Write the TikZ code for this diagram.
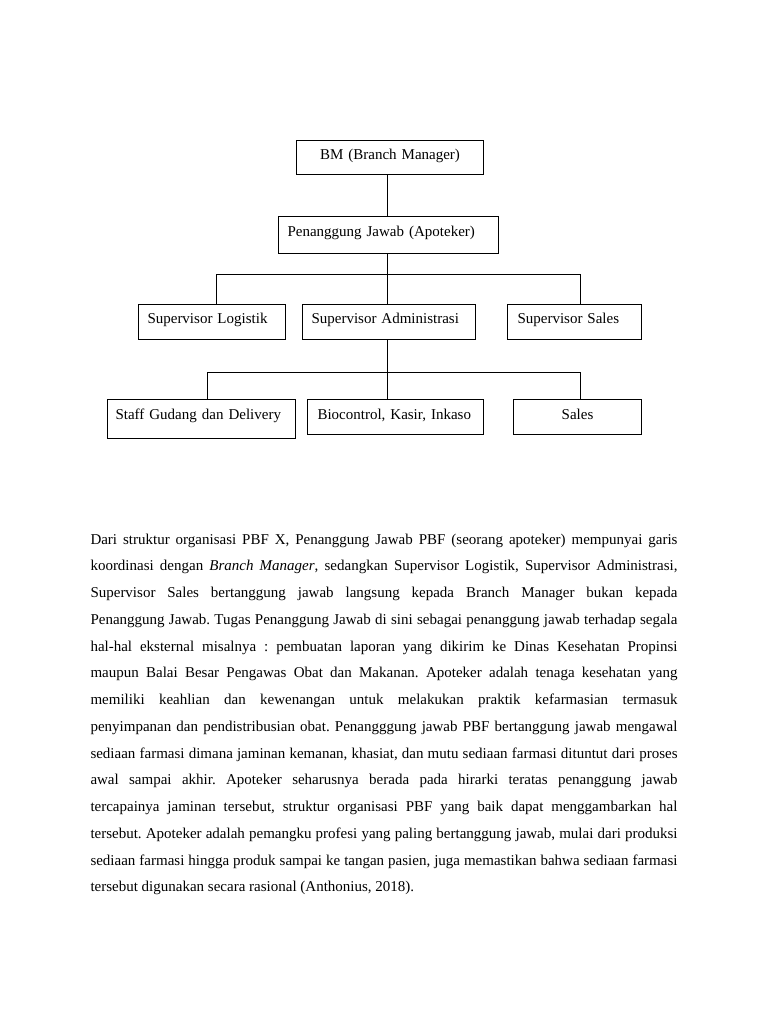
\documentclass[tikz,border=0pt]{standalone}
\usepackage{fontspec}
\setmainfont{Liberation Serif}
\usetikzlibrary{calc}
\tolerance=10000
\hyphenpenalty=10000
\frenchspacing

\begin{document}
\begin{tikzpicture}[x=1pt, y=-1pt, line width=1pt,
    orgbox/.style={draw, rectangle, anchor=north west, inner ysep=0pt, inner xsep=9pt,
      text height=19.5pt, align=left, font=\fontsize{15}{18}\selectfont},
    textbody/.style={anchor=base west, inner sep=0pt, text width=587pt, align=justify,
      font=\fontsize{15}{26.75}\selectfont}]
  \useasboundingbox (0, 0) rectangle (768, 1024);
  % boxes
  \node [orgbox, inner xsep=0pt, align=center, text width=187pt, text depth=14.5pt] (bm) at (296, 140) {BM (Branch Manager)};
  \node [orgbox, text width=202pt, text depth=17pt] (pj) at (278, 216.5) {Penanggung Jawab (Apoteker)};
  \node [orgbox, text width=129pt, text depth=16pt] (slog) at (138, 303.5) {Supervisor Logistik};
  \node [orgbox, text width=155pt, text depth=16pt] (sadm) at (302, 303.5) {Supervisor Administrasi};
  \node [orgbox, inner xsep=10pt, text width=114pt, text depth=16pt] (ssal) at (507, 303.5) {Supervisor Sales};
  \node [orgbox, inner xsep=8pt, text width=172pt, text depth=19.5pt] (staff) at (107, 399) {Staff Gudang dan Delivery};
  \node [orgbox, inner xsep=10pt, text width=156pt, text depth=15.5pt] (bio) at (307, 399) {Biocontrol, Kasir, Inkaso};
  \node [orgbox, inner xsep=0pt, align=center, text width=128pt, text depth=15.5pt] (sales) at (513, 399) {Sales};
  % lines
  \coordinate (bus1) at (387, 274.5);
  \coordinate (bus1l) at (216, 274.5);
  \coordinate (bus1r) at (580, 274.5);
  \coordinate (bus2) at (387, 372);
  \coordinate (bus2l) at (207, 372);
  \coordinate (bus2r) at (580, 372);
  \draw (bm.south -| bus1) -- (pj.north -| bus1);
  \draw (pj.south -| bus1) -- (sadm.north -| bus1);
  \draw (slog.north -| bus1l) -- (bus1l) -- (bus1r) -- (ssal.north -| bus1r);
  \draw (sadm.south -| bus2) -- (bio.north -| bus2);
  \draw (staff.north -| bus2l) -- (bus2l) -- (bus2r) -- (sales.north -| bus2r);
  % text
  \node [textbody] (para) at (90, 544) {Dari struktur organisasi PBF X, Penanggung Jawab PBF (seorang apoteker) mempunyai garis\linebreak
    koordinasi dengan \textit{Branch Manager}, sedangkan Supervisor Logistik, Supervisor Administrasi,\linebreak
    Supervisor Sales bertanggung jawab langsung kepada Branch Manager bukan kepada\linebreak
    Penanggung Jawab. Tugas Penanggung Jawab di sini sebagai penanggung jawab terhadap segala\linebreak
    hal-hal eksternal misalnya : pembuatan laporan yang dikirim ke Dinas Kesehatan Propinsi\linebreak
    maupun Balai Besar Pengawas Obat dan Makanan. Apoteker adalah tenaga kesehatan yang\linebreak
    memiliki keahlian dan kewenangan untuk melakukan praktik kefarmasian termasuk\linebreak
    penyimpanan dan pendistribusian obat. Penangggung jawab PBF bertanggung jawab mengawal\linebreak
    sediaan farmasi dimana jaminan kemanan, khasiat, dan mutu sediaan farmasi dituntut dari proses\linebreak
    awal sampai akhir. Apoteker seharusnya berada pada hirarki teratas penanggung jawab\linebreak
    tercapainya jaminan tersebut, struktur organisasi PBF yang baik dapat menggambarkan hal\linebreak
    tersebut. Apoteker adalah pemangku profesi yang paling bertanggung jawab, mulai dari produksi\linebreak
    sediaan farmasi hingga produk sampai ke tangan pasien, juga memastikan bahwa sediaan farmasi\linebreak
    tersebut digunakan secara rasional (Anthonius, 2018).};
\end{tikzpicture}
\end{document}
